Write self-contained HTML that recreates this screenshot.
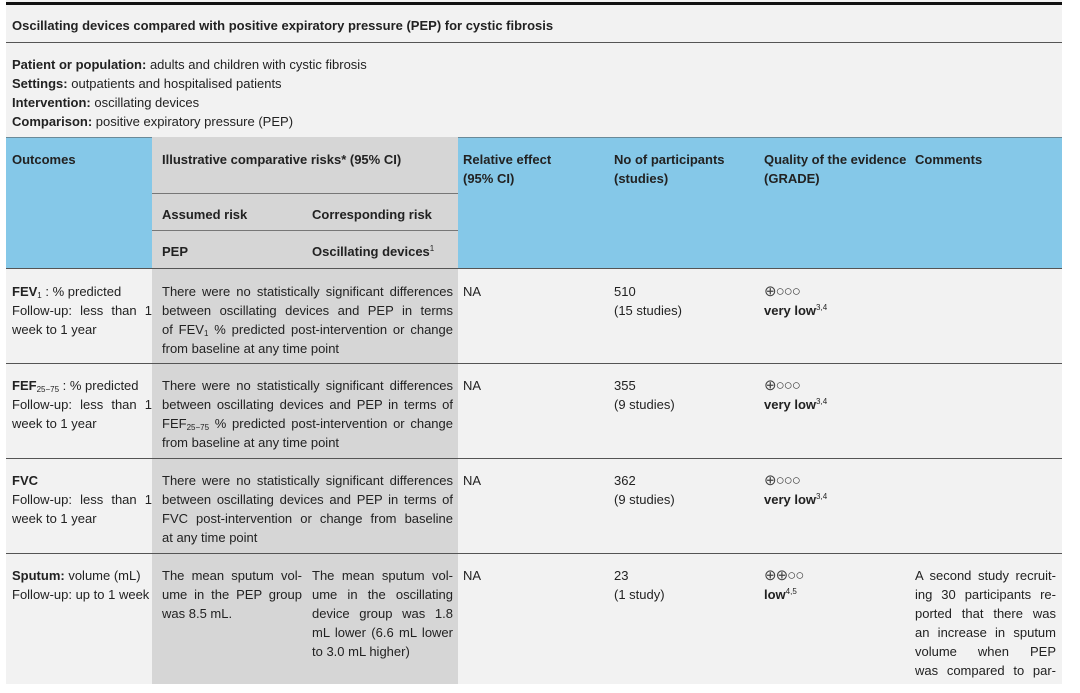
<!DOCTYPE html><html><head><meta charset="utf-8"><style>
body{margin:0;width:1080px;height:693px;background:#fff;position:relative;overflow:hidden;font-family:"Liberation Sans",Arial,sans-serif;font-size:13px;color:#222}
div{position:absolute}
.t{line-height:19px;white-space:nowrap}
.j{text-align:justify;text-align-last:justify;white-space:normal}
b{font-weight:bold}
sup{font-size:8px;vertical-align:5px;line-height:0}
sub{font-size:8px;vertical-align:-2px;line-height:0}
.g{font-size:15px;color:#444;letter-spacing:-1px}
</style></head><body>
<div style="left:6px;top:0;width:1056px;height:684px;background:#f2f2f2"></div>
<div style="left:6px;top:2px;width:1056px;height:3px;background:#111"></div>
<div style="left:6px;top:42px;width:1056px;height:1px;background:#555"></div>
<div class="t" style="left:12px;top:16px"><b>Oscillating devices compared with positive expiratory pressure (PEP) for cystic fibrosis</b></div>
<div class="t" style="left:12px;top:55px"><b>Patient or population:</b> adults and children with cystic fibrosis<br><b>Settings:</b> outpatients and hospitalised patients<br><b>Intervention:</b> oscillating devices<br><b>Comparison:</b> positive expiratory pressure (PEP)</div>
<div style="left:6px;top:137px;width:1056px;height:131px;background:#85c8e8"></div>
<div style="left:6px;top:137px;width:1056px;height:1px;background:#6a8a99"></div>
<div style="left:152px;top:137px;width:306px;height:131px;background:#d6d6d6"></div>
<div style="left:152px;top:193px;width:306px;height:1px;background:#777"></div>
<div style="left:152px;top:230px;width:306px;height:1px;background:#777"></div>
<div style="left:152px;top:268px;width:306px;height:416px;background:#d6d6d6"></div>
<div style="left:6px;top:268px;width:1056px;height:1px;background:#555"></div>
<div style="left:6px;top:363px;width:1056px;height:1px;background:#555"></div>
<div style="left:6px;top:458px;width:1056px;height:1px;background:#555"></div>
<div style="left:6px;top:553px;width:1056px;height:1px;background:#555"></div>
<div class="t" style="left:12px;top:150px"><b>Outcomes</b></div>
<div class="t" style="left:162px;top:150px"><b>Illustrative comparative risks* (95% CI)</b></div>
<div class="t" style="left:162px;top:205px"><b>Assumed risk</b></div>
<div class="t" style="left:312px;top:205px"><b>Corresponding risk</b></div>
<div class="t" style="left:162px;top:242px"><b>PEP</b></div>
<div class="t" style="left:312px;top:242px"><b>Oscillating devices</b><sup>1</sup></div>
<div class="t" style="left:463px;top:150px"><b>Relative effect<br>(95% CI)</b></div>
<div class="t" style="left:614px;top:150px"><b>No of participants<br>(studies)</b></div>
<div class="t" style="left:764px;top:150px"><b>Quality of the evidence<br>(GRADE)</b></div>
<div class="t" style="left:915px;top:150px"><b>Comments</b></div>
<div class="t" style="left:12px;top:282px;width:140px"><b>FEV</b><sub>1</sub> : % predicted<div class="j" style="position:static">Follow-up: less than 1</div>week to 1 year</div>
<div class="t" style="left:162px;top:282px;width:291px"><div class="j" style="position:static">There were no statistically significant differences</div><div class="j" style="position:static">between oscillating devices and PEP in terms</div><div class="j" style="position:static">of FEV<sub>1</sub> % predicted post-intervention or change</div>from baseline at any time point</div>
<div class="t" style="left:463px;top:282px">NA</div>
<div class="t" style="left:614px;top:282px">510<br>(15 studies)</div>
<div class="t" style="left:764px;top:282px"><span class="g">⊕○○○</span><br><b>very low</b><sup>3,4</sup></div>
<div class="t" style="left:12px;top:376px;width:140px"><b>FEF</b><sub>25−75</sub> : % predicted<div class="j" style="position:static">Follow-up: less than 1</div>week to 1 year</div>
<div class="t" style="left:162px;top:376px;width:291px"><div class="j" style="position:static">There were no statistically significant differences</div><div class="j" style="position:static">between oscillating devices and PEP in terms of</div><div class="j" style="position:static">FEF<sub>25−75</sub> % predicted post-intervention or change</div>from baseline at any time point</div>
<div class="t" style="left:463px;top:376px">NA</div>
<div class="t" style="left:614px;top:376px">355<br>(9 studies)</div>
<div class="t" style="left:764px;top:376px"><span class="g">⊕○○○</span><br><b>very low</b><sup>3,4</sup></div>
<div class="t" style="left:12px;top:471px;width:140px"><b>FVC</b><div class="j" style="position:static">Follow-up: less than 1</div>week to 1 year</div>
<div class="t" style="left:162px;top:471px;width:291px"><div class="j" style="position:static">There were no statistically significant differences</div><div class="j" style="position:static">between oscillating devices and PEP in terms of</div><div class="j" style="position:static">FVC post-intervention or change from baseline</div>at any time point</div>
<div class="t" style="left:463px;top:471px">NA</div>
<div class="t" style="left:614px;top:471px">362<br>(9 studies)</div>
<div class="t" style="left:764px;top:471px"><span class="g">⊕○○○</span><br><b>very low</b><sup>3,4</sup></div>
<div class="t" style="left:12px;top:566px"><b>Sputum:</b> volume (mL)<br>Follow-up: up to 1 week</div>
<div class="t" style="left:162px;top:566px;width:140px"><div class="j" style="position:static">The mean sputum vol-</div><div class="j" style="position:static">ume in the PEP group</div>was 8.5 mL.</div>
<div class="t" style="left:312px;top:566px;width:141px"><div class="j" style="position:static">The mean sputum vol-</div><div class="j" style="position:static">ume in the oscillating</div><div class="j" style="position:static">device group was 1.8</div><div class="j" style="position:static">mL lower (6.6 mL lower</div>to 3.0 mL higher)</div>
<div class="t" style="left:463px;top:566px">NA</div>
<div class="t" style="left:614px;top:566px">23<br>(1 study)</div>
<div class="t" style="left:764px;top:566px"><span class="g">⊕⊕○○</span><br><b>low</b><sup>4,5</sup></div>
<div class="t" style="left:915px;top:566px;width:141px"><div class="j" style="position:static">A second study recruit-</div><div class="j" style="position:static">ing 30 participants re-</div><div class="j" style="position:static">ported that there was</div><div class="j" style="position:static">an increase in sputum</div><div class="j" style="position:static">volume when PEP</div><div class="j" style="position:static">was compared to par-</div></div>
</body></html>
